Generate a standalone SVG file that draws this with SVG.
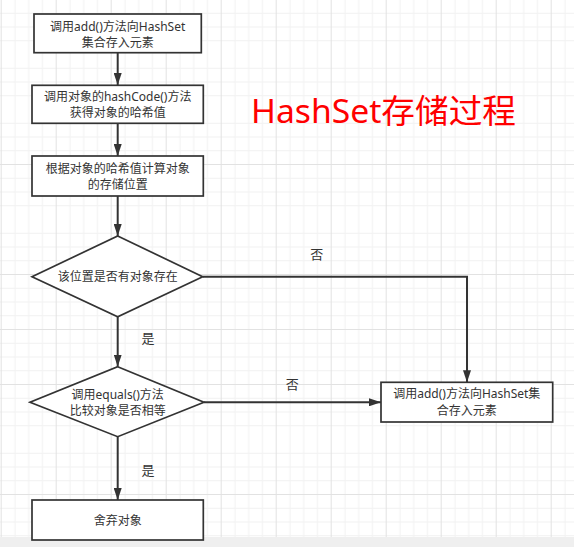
<svg xmlns="http://www.w3.org/2000/svg" width="574" height="547" viewBox="0 0 574 547">
<defs>
<pattern id="grid" x="0.7" y="-1" width="55" height="55" patternUnits="userSpaceOnUse">
<rect x="13.75" y="0" width="1" height="55" fill="#f1f1f1"/>
<rect x="27.5" y="0" width="1" height="55" fill="#f1f1f1"/>
<rect x="41.25" y="0" width="1" height="55" fill="#f1f1f1"/>
<rect x="0" y="13.75" width="55" height="1" fill="#f1f1f1"/>
<rect x="0" y="27.5" width="55" height="1" fill="#f1f1f1"/>
<rect x="0" y="41.25" width="55" height="1" fill="#f1f1f1"/>
<rect x="0" y="0" width="1" height="55" fill="#e2e2e2"/>
<rect x="0" y="0" width="55" height="1" fill="#e2e2e2"/>
</pattern>
<marker id="arrow" markerUnits="userSpaceOnUse" viewBox="0 0 12 8" refX="12" refY="4" markerWidth="12" markerHeight="8" orient="auto">
<path d="M0,0 L12,4 L0,8 Z" fill="#333333"/>
</marker>
</defs>
<style>
.node{fill:#ffffff;stroke:#333333;stroke-width:1.7}
.t{font-family:"Noto Sans","Noto Sans CJK SC",sans-serif;font-size:12px;fill:#333333;text-anchor:middle}
.lbl{font-family:"Noto Sans","Noto Sans CJK SC",sans-serif;font-size:13px;fill:#333333;text-anchor:middle}
.edge{fill:none;stroke:#333333;stroke-width:2}
</style>
<rect x="0" y="0" width="574" height="547" fill="#ffffff"/>
<rect x="0" y="0" width="574" height="537" fill="url(#grid)"/>
<rect x="0" y="537" width="574" height="10" fill="#efefef"/>

<text x="251" y="123" font-family="'Noto Sans','Noto Sans CJK SC',sans-serif" font-size="33" fill="#ff0000" textLength="265" lengthAdjust="spacingAndGlyphs">HashSet存储过程</text>

<g id="connectors">
<path class="edge" d="M117.7,53 L117.7,85" marker-end="url(#arrow)"/>
<path class="edge" d="M117.7,123.3 L117.7,156" marker-end="url(#arrow)"/>
<path class="edge" d="M117.7,196 L117.7,236" marker-end="url(#arrow)"/>
<path class="edge" d="M117.7,316.7 L117.7,366.7" marker-end="url(#arrow)"/>
<path class="edge" d="M117.7,436.7 L117.7,500" marker-end="url(#arrow)"/>
<path class="edge" d="M202.7,276.7 L467,276.7 L467,382.3" marker-end="url(#arrow)"/>
<path class="edge" d="M204,402.3 L381,402.3" marker-end="url(#arrow)"/>
<text class="lbl" x="148" y="342.5">是</text>
<text class="lbl" x="148" y="474.5">是</text>
<text class="lbl" x="316.7" y="258.5">否</text>
<text class="lbl" x="292.3" y="388.5">否</text>
</g>

<g id="n1">
<rect class="node" x="34" y="14" width="167.3" height="38.7"/>
<text class="t" x="117.7" y="31">调用add()方法向HashSet</text>
<text class="t" x="117.7" y="47">集合存入元素</text>
</g>
<g id="n2">
<rect class="node" x="32" y="85.3" width="171.3" height="38"/>
<text class="t" x="117.7" y="101">调用对象的hashCode()方法</text>
<text class="t" x="117.7" y="117">获得对象的哈希值</text>
</g>
<g id="n3">
<rect class="node" x="32" y="156" width="171.3" height="40"/>
<text class="t" x="117.7" y="172.6">根据对象的哈希值计算对象</text>
<text class="t" x="117.7" y="188.6">的存储位置</text>
</g>
<g id="d1">
<polygon class="node" points="117.7,236 202.7,276.7 117.7,316.7 32,276.7"/>
<text class="t" x="117.7" y="280.5">该位置是否有对象存在</text>
</g>
<g id="d2">
<polygon class="node" points="117.7,366.7 204,402.3 117.7,436.7 30,402.3"/>
<text class="t" x="117.7" y="398.5">调用equals()方法</text>
<text class="t" x="117.7" y="414.5">比较对象是否相等</text>
</g>
<g id="n4">
<rect class="node" x="32" y="500" width="171.3" height="40"/>
<text class="t" x="117.7" y="525">舍弃对象</text>
</g>
<g id="n5">
<rect class="node" x="381" y="382.3" width="171.7" height="39.7"/>
<text class="t" x="466.8" y="398.3">调用add()方法向HashSet集</text>
<text class="t" x="466.8" y="415">合存入元素</text>
</g>
</svg>
